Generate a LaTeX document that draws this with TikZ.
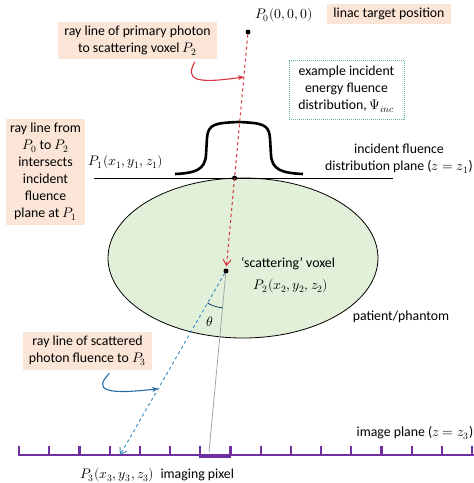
\documentclass[tikz,border=0pt]{standalone}
\usepackage{fontspec}
\usepackage{unicode-math}
\setmainfont{Carlito}
\usetikzlibrary{arrows.meta,calc}

\definecolor{notepink}{HTML}{FBE5D6}
\definecolor{rayred}{RGB}{214,52,62}
\definecolor{rayblue}{RGB}{62,145,196}
\definecolor{arrblue}{RGB}{36,108,168}
\definecolor{bodygreen}{HTML}{E2F0D9}
\definecolor{boxteal}{RGB}{95,182,160}
\definecolor{planepurple}{HTML}{7030A0}

\tikzset{
  notebox/.style={fill=notepink, inner xsep=6pt, inner ysep=4pt, align=center},
  dotnode/.style={circle, fill=black, inner sep=0pt, minimum size=5pt},
  lbl/.style={inner sep=0.75pt},
  pixtick/.style={planepurple, line width=2.2pt}
}

\begin{document}
\begin{tikzpicture}[x=1pt,y=1pt,yscale=-1,xscale=1,font=\fontsize{13.8}{17}\selectfont]
\useasboundingbox (0,0) rectangle (474,483);

%Shape: Ellipse patient
\draw [fill=bodygreen, line width=0.8pt] (243,258) ellipse (135 and 80);
%Straight Lines incident plane
\draw [line width=0.8pt] (94,178) -- (393,178) ;

% points
\draw (248,32) node (p0) [dotnode] {};
\draw (226,271) node (p2) [dotnode] {};
\coordinate (p1) at ($(p0)!0.611!(p2)$);
\draw (p1) node (p1dot) [dotnode] {};
\coordinate (p3) at (120,455);
\coordinate (g3) at (209,452);

%Curve Lines fluence distribution
\draw [line width=2.6pt, line join=round]  (175,174) .. controls (195,173) and (205,170) .. (206,155) -- (207,138) .. controls (208,124) and (215,123) .. (238,122) .. controls (262,123) and (269,124) .. (270,138) -- (271,155) .. controls (272,170) and (282,173) .. (303,174) ;

%Straight Lines rays
\draw [rayred, dashed, line width=1pt, -{Straight Barb[length=6pt,width=8pt]}, shorten >=2pt]  (p0) -- (p2) ;
\draw [black!35, line width=0.8pt]  (p2) -- (g3) ;
\draw [rayblue, dashed, line width=1pt, -{Straight Barb[length=6pt,width=8pt]}]  (p2) -- (p3) ;
%Arc theta
\draw [arrblue!60!black, line width=0.8pt] ($(p2)+(95.4:37)$) arc (95.4:119.9:37) ;

%Image plane
\draw [planepurple, line width=2.2pt]  (18,455) -- (474,455) ;
\foreach \i in {0,...,15}
  \draw [pixtick] ({19+30.2*\i},456) -- ++(0,-10) ;
\draw [planepurple, line width=2pt]  (199,456.8) -- (231,456.8) ;

% Text Node
\draw (284,15) node (p0lbl) [lbl] {$P_0(0,0,0)$};
% Text Node
\draw (389,14) node (target) [notebox] {linac target position};
% Text Node
\draw (137.5,40.5) node (primary) [notebox] {ray line of primary photon\\to scattering voxel $P_2$};
% Text Node
\draw (346.5,89.5) node (incbox) [draw=boxteal, densely dotted, line width=1pt, minimum width=115pt, minimum height=59pt, align=center, inner sep=2pt] {example incident\\energy fluence\\distribution, $\Psi_{inc}$};
% Text Node
\draw (45.5,171.5) node (crossing) [notebox, inner xsep=4pt] {ray line from\\$P_0$ to $P_2$\\intersects\\incident\\fluence\\plane at $P_1$};
% Text Node
\draw (126,162) node (p1lbl) [lbl] {$P_1(x_1,y_1,z_1)$};
% Text Node
\draw (399,159) node (planelbl) [lbl, align=center] {incident fluence\\distribution plane ($z=z_1$)};
% Text Node
\draw (288,264) node (voxel) [lbl] {‘scattering’ voxel};
% Text Node
\draw (291,286) node (p2lbl) [lbl] {$P_2(x_2,y_2,z_2)$};
% Text Node
\draw (401,317) node (phantom) [lbl] {patient/phantom};
% Text Node
\draw (210,322) node (theta) [lbl] {$\theta$};
% Text Node
\draw (87.5,351) node (scatter) [notebox] {ray line of scattered\\photon fluence to $P_3$};
% Text Node
\draw (415,433) node (imglbl) [lbl] {image plane ($z=z_3$)};
% Text Node
\draw (157,475) node (p3lbl) [lbl] {$P_3(x_3,y_3,z_3)$~~imaging pixel};

%Curve Lines pointers
\draw [rayred, line width=1.1pt, -{Stealth[length=6pt,width=5pt]}]  (primary.south east) ++(-22,2) .. controls (185,80) and (195,84) .. ($(p0)!0.188!(p2)$) ;
\draw [arrblue, line width=1.1pt, -{Stealth[length=6pt,width=5pt]}]  (scatter.south) ++(22,3) .. controls (93,390) and (105,395) .. ($(p2)!0.64!(p3)$) ;

\end{tikzpicture}
\end{document}
